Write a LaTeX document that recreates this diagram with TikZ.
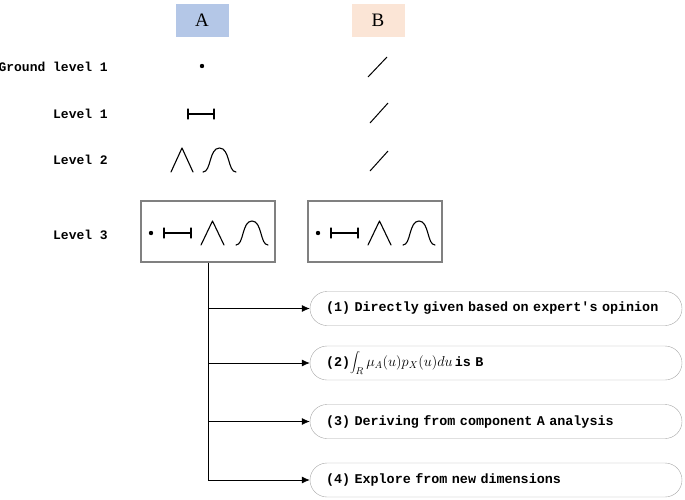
\documentclass[tikz,border=0pt]{standalone}
\usepackage{fontspec}
\setmainfont{Liberation Serif}
\newfontfamily\monof{Liberation Mono}
\usetikzlibrary{arrows.meta}
\definecolor{cA}{HTML}{B4C7E7}
\definecolor{cB}{HTML}{FBE5D6}
\definecolor{gbox}{HTML}{808080}
\begin{document}
\begin{tikzpicture}[x=1pt,y=-1pt,
  lab/.style={font=\monof\bfseries\fontsize{13}{14}\selectfont,anchor=east,inner sep=0},
  hdr/.style={minimum width=53pt,minimum height=33pt,inner sep=0,font=\fontsize{19}{21}\selectfont},
  sym/.style={line width=1.1pt,line cap=round,line join=round},
  slash/.style={line width=1pt},
  lvl/.style={draw=gbox,line width=1.1pt,minimum width=134pt,minimum height=61pt,inner sep=0},
  opt/.style={draw=gbox!70,rounded corners=17pt,minimum width=372pt,minimum height=34pt,inner xsep=16pt,text width=340pt,align=left,font=\monof\bfseries\fontsize{13.4}{14}\selectfont},
  arr/.style={-{Latex[length=8pt,width=7pt]},line width=0.8pt}]
\useasboundingbox (0,0) rectangle (685,499);
\newcommand{\intv}[3]{\draw[sym] (#1,#3) -- (#2,#3); \draw[sym] (#1,#3-5) -- (#1,#3+5); \draw[sym] (#2,#3-5) -- (#2,#3+5);}
\newcommand{\lam}[3]{\draw[sym] (#1,#3+12) -- ({(#1+#2)/2},#3-12) -- (#2,#3+12);}
\newcommand{\bell}[3]{\draw[sym] (#1,#3+12) .. controls ({#1+0.25*(#2-#1)},#3+12) and ({#1+0.18*(#2-#1)},#3-12) .. ({(#1+#2)/2},#3-12) .. controls ({#1+0.82*(#2-#1)},#3-12) and ({#1+0.75*(#2-#1)},#3+12) .. (#2,#3+12);}
\node[hdr,fill=cA] (hA) at (202,20) {A};
\node[hdr,fill=cB] (hB) at (378,20) {B};
\node[lab] (l0) at (108,67) {Ground level 1};
\node[lab] (l1) at (108,114) {Level 1};
\node[lab] (l2) at (108,160) {Level 2};
\node[lab] (l3) at (108,235) {Level 3};
\fill (202,66) circle (2.2pt);
\draw[slash] (368,77) -- (387,57);
\intv{188}{214}{114}
\draw[slash] (370,123) -- (388,103);
\lam{171}{193}{160}
\bell{203}{236}{160}
\draw[slash] (370,171) -- (388,151);
\node[lvl] (bA) at (208,231.5) {};
\node[lvl] (bB) at (375,231.5) {};
\fill (151,233) circle (2.2pt);
\intv{164}{191}{233}
\lam{201}{224}{233}
\bell{236}{268}{233}
\fill (318,233) circle (2.2pt);
\intv{331}{358}{233}
\lam{368}{391}{233}
\bell{403}{435}{233}
\node[opt] (o1) at (496,308.5) {(1) Directly given based on expert's opinion};
\node[opt] (o2) at (496,363) {(2){\fontsize{14}{16}\selectfont$\displaystyle\int_R\mu_A(u)p_X(u)du$}\,is B};
\node[opt] (o3) at (496,421.5) {(3) Deriving from component A analysis};
\node[opt] (o4) at (496,480) {(4) Explore from new dimensions};
\draw[line width=0.8pt] (bA.south) -- (bA.south |- o4.west);
\foreach \o in {o1,o2,o3,o4} \draw[arr] (bA.south |- \o.west) -- (\o.west);
\end{tikzpicture}
\end{document}
